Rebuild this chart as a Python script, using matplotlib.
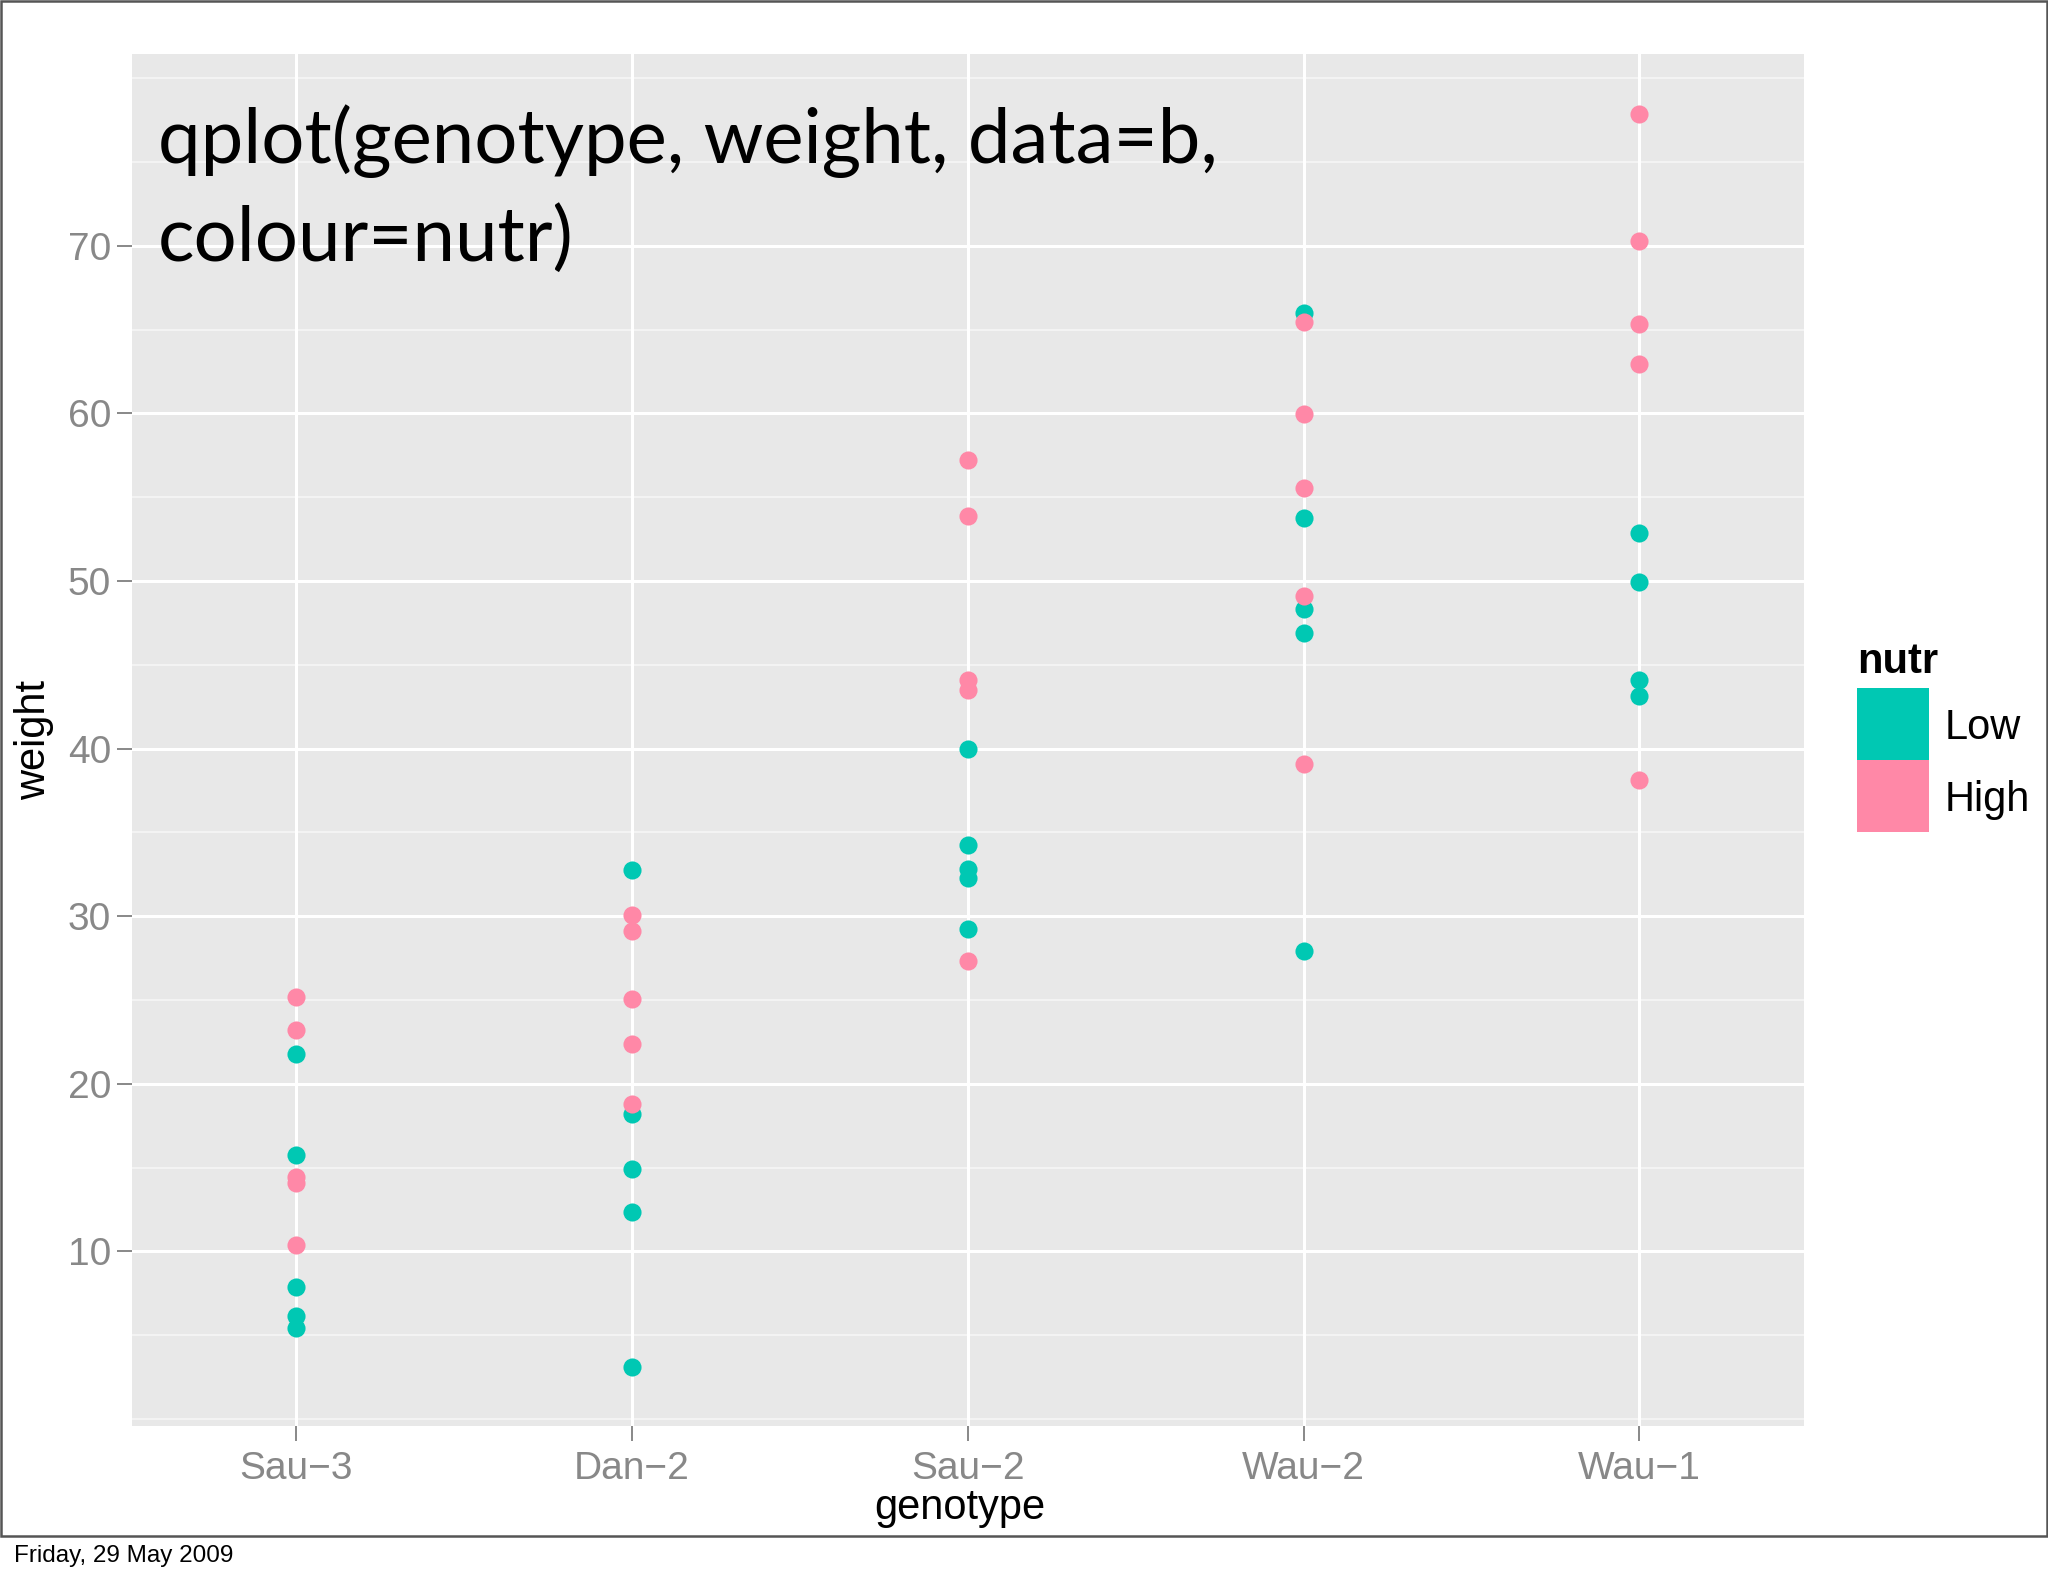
import numpy as np
import matplotlib.pyplot as plt
from matplotlib.patches import Rectangle

genotypes = ["Sau\u22123", "Dan\u22122", "Sau\u22122", "Wau\u22122", "Wau\u22121"]

# weights, per genotype, split by nutrient level
low_weight = [
    [21.75, 15.77, 7.9, 6.16, 5.4],
    [32.75, 18.22, 14.9, 12.36, 3.13],
    [39.95, 34.25, 32.8, 32.27, 29.25],
    [66.0, 53.78, 48.3, 46.9, 27.95],
    [52.85, 49.95, 44.1, 43.12],
]
high_weight = [
    [25.16, 23.2, 14.43, 14.05, 10.37],
    [30.05, 29.1, 25.03, 22.4, 18.78],
    [57.22, 53.85, 44.1, 43.47, 27.3],
    [65.47, 59.96, 55.52, 49.1, 39.1],
    [77.87, 70.31, 65.32, 62.97, 38.1],
]
nutr_levels = ["Low", "High"]
nutr_colors = ["#00C8B3", "#FF88A7"]

W, H = 2048, 1576
fig = plt.figure(figsize=(W / 100, H / 100), dpi=100)
fig.patch.set_facecolor("white")

ax = fig.add_axes([131.9 / W, 1 - 1426 / H, (1803.7 - 131.9) / W, (1426 - 54) / H])
ax.set_facecolor("#E8E8E8")
for s in ax.spines.values():
    s.set_visible(False)

ax.set_xlim(0.51, 5.49)
ax.set_ylim(-0.42, 81.44)

# grid
for v in [0, 5, 15, 25, 35, 45, 55, 65, 75, 80]:
    ax.axhline(v, color="#F4F4F4", linewidth=1.4, zorder=1)
for v in range(10, 80, 10):
    ax.axhline(v, color="white", linewidth=2.2, zorder=1)
for i in range(1, len(genotypes) + 1):
    ax.axvline(i, color="white", linewidth=2.2, zorder=1)

for idx, (lo, hi) in enumerate(zip(low_weight, high_weight)):
    x = idx + 1
    ax.scatter([x] * len(lo), lo, s=170, color=nutr_colors[0], linewidths=0, zorder=3)
    ax.scatter([x] * len(hi), hi, s=170, color=nutr_colors[1], linewidths=0, zorder=4)

ax.set_xticks(range(1, len(genotypes) + 1))
ax.set_xticklabels(genotypes)
ax.set_yticks(range(10, 80, 10))
ax.tick_params(axis="both", colors="#7F7F7F", labelcolor="#888888", labelsize=28,
               length=11, width=1.3, pad=4)
ax.tick_params(axis="x", pad=7)
for lab in ax.get_xticklabels() + ax.get_yticklabels():
    lab.set_fontfamily("Liberation Sans")

ax.set_xlabel("genotype", fontsize=30, family="Liberation Sans", labelpad=6)
ax.xaxis.set_label_coords(0.495, -0.045)
ax.xaxis.label.set_va("top")
ax.set_ylabel("weight", fontsize=30, family="Liberation Sans", labelpad=10)

# big code title inside the panel
fig.text(158 / W, 1 - 163 / H, "qplot(genotype, weight, data=b,", fontsize=54.8,
         family="Lato", va="baseline", ha="left")
fig.text(158 / W, 1 - 261 / H, "colour=nutr)", fontsize=54.8,
         family="Lato", va="baseline", ha="left")

# legend
fig.text(1857 / W, 1 - 673 / H, "nutr", fontsize=30, weight="bold",
         family="Liberation Sans", va="baseline", ha="left")
for k, (lev, col) in enumerate(zip(nutr_levels, nutr_colors)):
    y0 = 688 + k * 72
    fig.add_artist(Rectangle((1857 / W, 1 - (y0 + 72) / H), 72 / W, 72 / H,
                             transform=fig.transFigure, facecolor=col, edgecolor="none"))
    fig.text(1945 / W, 1 - (y0 + 40) / H, lev, fontsize=30, family="Liberation Sans",
             va="center", ha="left")

# slide frame and footer
fig.add_artist(Rectangle((1 / W, 1 - 1536 / H), (W - 2) / W, (1536 - 1) / H,
                         transform=fig.transFigure, facecolor="none",
                         edgecolor="#555555", linewidth=1.8))
fig.text(14 / W, 1 - 1562 / H, "Friday, 29 May 2009", fontsize=17.5,
         family="Liberation Sans", va="baseline", ha="left")

plt.savefig("out.png", dpi=100)
